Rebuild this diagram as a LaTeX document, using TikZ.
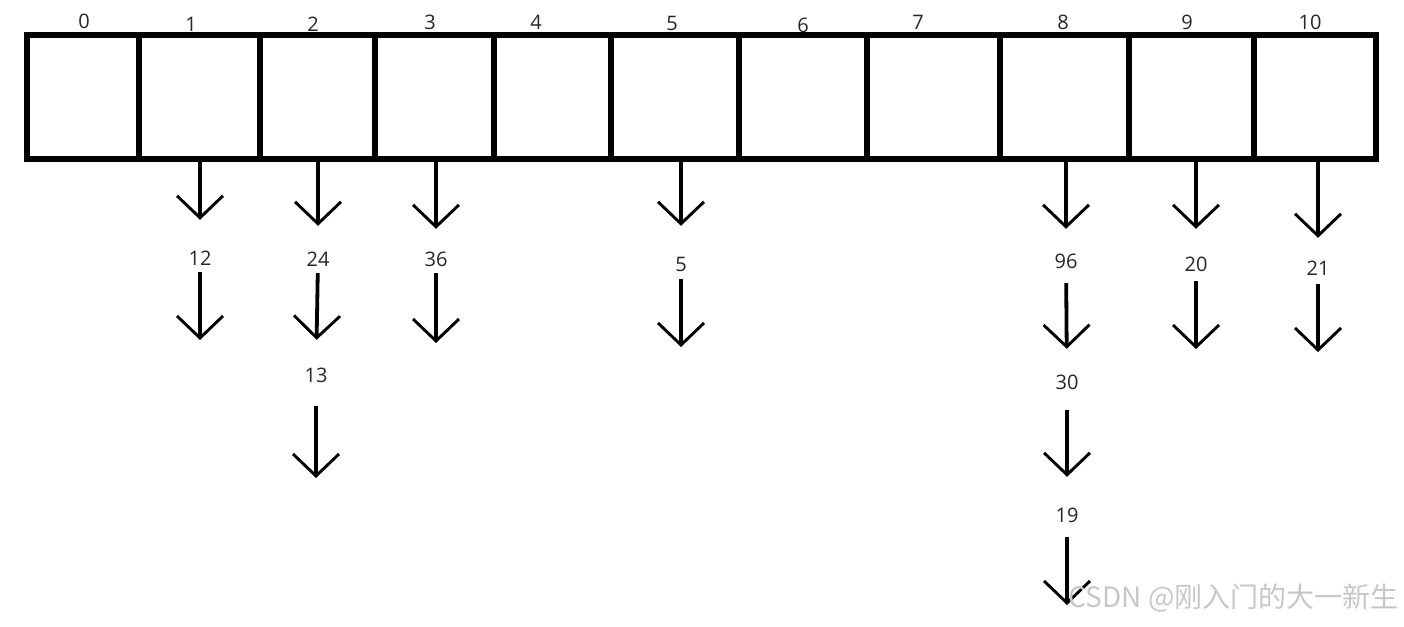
\documentclass[tikz,border=0pt]{standalone}
\usepackage{fontspec}
\setmainfont{Open Sans}
\newfontfamily\cjkfont{Noto Sans CJK SC}
\usetikzlibrary{arrows.meta}

\begin{document}
\begin{tikzpicture}[x=1pt,y=-1pt,
  cell/.style={draw,line width=5.3pt,minimum height=124pt,inner sep=0pt,outer sep=0pt},
  idx/.style={font=\fontsize{20}{22}\selectfont,text=black!85,inner sep=0pt},
  val/.style={font=\fontsize{20}{22}\selectfont,text=black!85,inner sep=0pt,
    text height=14pt,text depth=0pt},
  arr/.style={line width=3.8pt,-{Straight Barb[length=22pt,width=46pt,line width=2.9pt]}},
  wm/.style={font=\cjkfont\fontsize{28}{30}\selectfont,text=black!22,inner sep=0pt}]
\useasboundingbox (0,0) rectangle (1404,626);
% hash table slots with their indices
\foreach \i/\a/\b/\lx/\ly in {0/27/139/84/21, 1/139/260/191/24, 2/260/375/313/24,
    3/375/494/430/22, 4/494/611/536/22, 5/611/739/672/23, 6/739/867/803/25,
    7/867/1000/918/22, 8/1000/1129/1063/22, 9/1129/1254/1187/22, 10/1254/1376/1310/22}{
  \node[cell,minimum width={(\b-\a)*1pt}] (c\i) at ({(\a+\b)/2},97) {};
  \node[idx] (i\i) at (\lx,\ly) {\i};
}
% chained values
\node[val] (v12) at (200,258) {12};
\node[val] (v24) at (318,259) {24};
\node[val] (v13) at (316,375) {13};
\node[val] (v36) at (436,259) {36};
\node[val] (v5) at (681,264) {5};
\node[val] (v96) at (1066,261) {96};
\node[val] (v30) at (1067,382) {30};
\node[val] (v19) at (1067,515) {19};
\node[val] (v20) at (1196,264) {20};
\node[val] (v21) at (1318,268) {21};
\coordinate (e12) at (200,340);
\coordinate (e13) at (316,478);
\coordinate (e36) at (436,343);
\coordinate (e5) at (681,347);
\coordinate (e19) at (1067,605);
\coordinate (e20) at (1196,349);
\coordinate (e21) at (1318,352);
% slot -> first value
\draw[arr,shorten >=31pt] (c1.south -| v12) -- (v12);
\draw[arr,shorten >=26pt] (c2.south -| v24) -- (v24);
\draw[arr,shorten >=23pt] (c3.south -| v36) -- (v36);
\draw[arr,shorten >=31pt] (c5.south -| v5) -- (v5);
\draw[arr,shorten >=25pt] (c8.south -| v96) -- (v96);
\draw[arr,shorten >=28pt] (c9.south -| v20) -- (v20);
\draw[arr,shorten >=23pt] (c10.south -| v21) -- (v21);
% value -> next
\draw[arr,shorten <=7pt] (v12) -- (e12);
\draw[arr,shorten <=7pt,shorten >=28pt] (v24) -- (v13);
\draw[arr,shorten <=24pt] (v13) -- (e13);
\draw[arr,shorten <=7pt] (v36) -- (e36);
\draw[arr,shorten <=8pt] (v5) -- (e5);
\draw[arr,shorten <=15pt,shorten >=26pt] (v96) -- (v30);
\draw[arr,shorten <=21pt,shorten >=31pt] (v30) -- (v19);
\draw[arr,shorten <=15pt] (v19) -- (e19);
\draw[arr,shorten <=10pt] (v20) -- (e20);
\draw[arr,shorten <=9pt] (v21) -- (e21);
\node[wm,anchor=south east] (mark) at (1399,613) {CSDN @刚入门的大一新生};
\end{tikzpicture}
\end{document}
